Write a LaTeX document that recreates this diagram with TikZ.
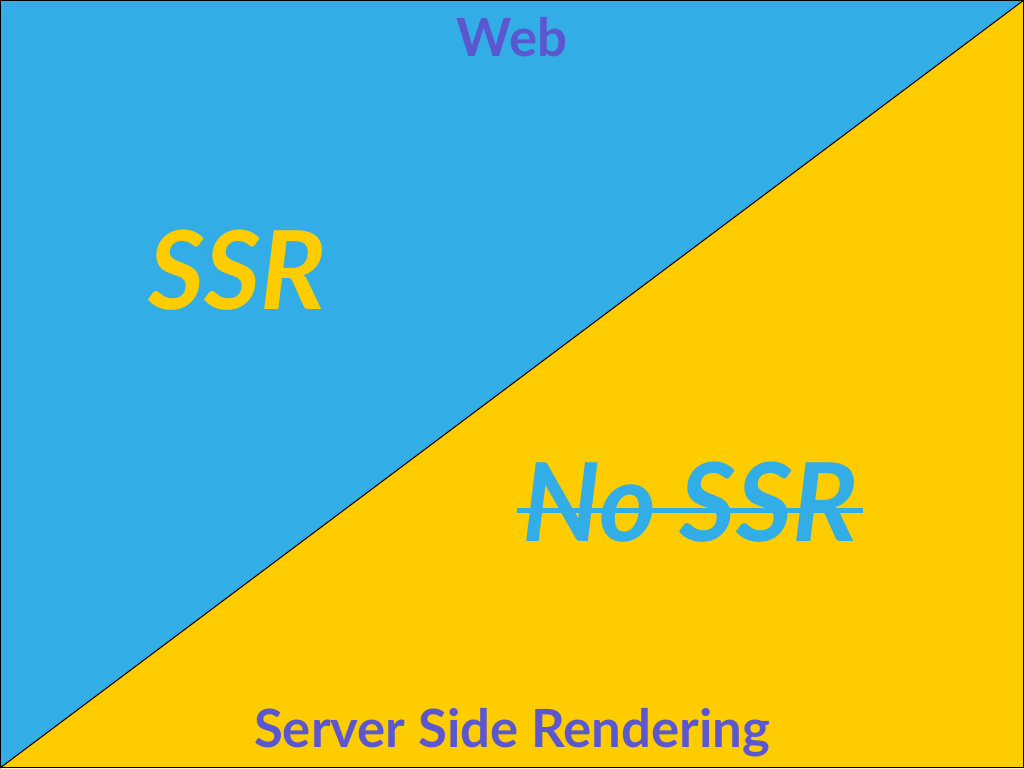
\documentclass[tikz,border=0pt]{standalone}
\usepackage{fontspec}
\setmainfont{Lato}
\usetikzlibrary{positioning}
\definecolor{skyblue}{HTML}{33ADE6}
\definecolor{sunyellow}{HTML}{FFCC00}
\definecolor{labelviolet}{HTML}{5B57D1}
\tikzset{
  title/.style={text=labelviolet, font=\fontsize{30}{34}\selectfont\bfseries},
  bigword/.style={font=\fontsize{62}{70}\selectfont\bfseries\itshape, inner sep=0pt}
}
\begin{document}
\begin{tikzpicture}[x=0.02cm, y=-0.02cm]
  \useasboundingbox (0,0) rectangle (1024,768);
  % Halves
  \fill[skyblue] (0,0) -- (1024,0) -- (0,768) -- cycle;
  \fill[sunyellow] (1024,0) -- (1024,768) -- (0,768) -- cycle;
  \coordinate (corner1) at (0,768);
  \coordinate (corner2) at (1024,0);
  \draw[black, line width=0.6pt] (corner1) -- (corner2);
  \draw[black, line width=1pt] (0.5,0.5) rectangle (1023.5,767.5);

  % Labels
  \node[title] (web) at (512,37) {Web};
  \node[title] (ssrfull) at (512,733) {Server Side Rendering};
  \node[bigword, text=sunyellow] (ssr) at (237,270) {SSR};
  \node[bigword, text=skyblue] (nossr) at (690,502) {No SSR};
  \draw[skyblue, line width=3pt] ([xshift=-3pt,yshift=-5pt]nossr.west) -- ([xshift=3pt,yshift=-5pt]nossr.east);
\end{tikzpicture}
\end{document}
